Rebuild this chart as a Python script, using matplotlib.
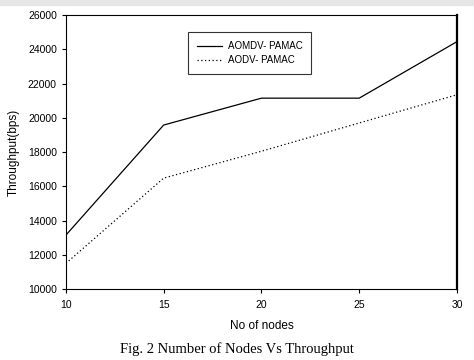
import matplotlib
matplotlib.use("Agg")
import matplotlib.pyplot as plt

nodes = [10, 15, 20, 25, 30]
aomdv_pamac = [13150, 19580, 21150, 21150, 24450]
aodv_pamac = [11500, 16480, 18050, 19700, 21350]
yticks = [10000, 12000, 14000, 16000, 18000, 20000, 22000, 24000, 26000]
xticks = [10, 15, 20, 25, 30]

plt.rcParams['font.family'] = ['Liberation Sans', 'DejaVu Sans']

fig = plt.figure(figsize=(4.74, 3.6), dpi=100)
# light grey strip at the very top, as in the scanned figure
fig.patches.append(plt.Rectangle((0, 0.985), 1, 0.015, transform=fig.transFigure,
                                 color="#e6e6e6", zorder=0))
ax = fig.add_axes([0.139, 0.197, 0.825, 0.761])

ax.plot(nodes, aomdv_pamac, color="black", lw=0.9, label="AOMDV- PAMAC")
ax.plot(nodes, aodv_pamac, color="black", lw=0.9, ls=(0, (1, 2)), label="AODV- PAMAC")

ax.set_xlim(10, 30)
ax.set_ylim(10000, 26000)
ax.set_xticks(xticks)
ax.set_yticks(yticks)
ax.tick_params(labelsize=7.5, length=3, width=0.8, direction="out")
ax.tick_params(axis="x", pad=5)
for s in ax.spines.values():
    s.set_linewidth(0.8)
ax.spines["right"].set_linewidth(1.6)

ax.set_xlabel("No of nodes", fontsize=8.5, labelpad=7)
ax.set_ylabel("Throughput(bps)", fontsize=8.5, labelpad=6)

leg = ax.legend(loc="upper left", bbox_to_anchor=(0.3, 0.955), fontsize=7,
                frameon=True, fancybox=False, edgecolor="black", handlelength=2.6,
                handletextpad=0.6, borderpad=0.9, labelspacing=0.45)
leg.get_frame().set_linewidth(0.8)

fig.text(0.5, 0.02, "Fig. 2 Number of Nodes Vs Throughput", ha="center",
         fontsize=10.5, family=["Liberation Serif", "DejaVu Serif"])

fig.savefig("out.png", dpi=100)
